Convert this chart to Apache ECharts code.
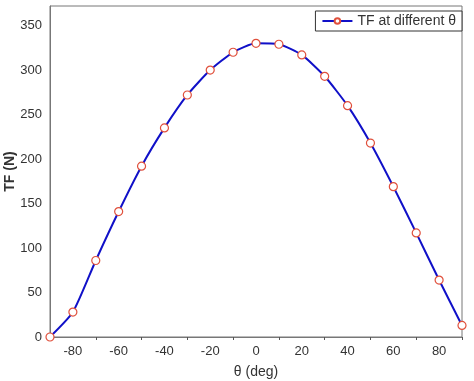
<!DOCTYPE html>
<html>
<head>
<meta charset="utf-8">
<script src="https://cdn.jsdelivr.net/npm/echarts@6/dist/echarts.min.js"></script>
<style>html,body{margin:0;padding:0;background:#fff}#c{width:474px;height:381px}</style>
</head>
<body>
<div id="c"></div>
<script>
var theta = [-90,-80,-70,-60,-50,-40,-30,-20,-10,0,10,20,30,40,50,60,70,80,90];
var tf = [0,28,86,141,192,235,272,300,320,330,329,317,293,260,218,169,117,64,13];
var xLabelValues = [-80,-60,-40,-20,0,20,40,60,80];
var xTickValues = [-90,-70,-50,-30,-10,10,30,50,70,90];
var yMax = 372;

var chart = echarts.init(document.getElementById('c'));
chart.setOption({
  animation: false,
  backgroundColor: '#fff',
  grid: { left: 50, right: 12, top: 6, bottom: 44, containLabel: false, outerBoundsMode: 'none', show: true, borderColor: '#777', borderWidth: 1, backgroundColor: 'transparent' },
  legend: {
    right: 12, top: 11,
    backgroundColor: '#fff', borderColor: '#333', borderWidth: 1,
    padding: [3, 6, 3, 6],
    itemWidth: 30, itemHeight: 7, itemGap: 6,
    textStyle: { fontFamily: 'Liberation Sans, Arial', fontSize: 14, color: '#333' }
  },
  xAxis: {
    type: 'value', min: -90, max: 90,
    name: 'θ (deg)', nameLocation: 'middle', nameGap: 28, nameMoveOverlap: false,
    nameTextStyle: { fontFamily: 'Liberation Sans, Arial', fontSize: 14, color: '#333' },
    axisLine: { onZero: false, lineStyle: { color: '#777', width: 1 } },
    axisTick: { show: true, length: 3, customValues: xTickValues, lineStyle: { color: '#555' } },
    axisLabel: { customValues: xLabelValues, fontFamily: 'Liberation Sans, Arial', fontSize: 13, color: '#333', margin: 8 },
    splitLine: { show: false }
  },
  yAxis: {
    type: 'value', min: 0, max: yMax, interval: 50,
    name: 'TF (N)', nameLocation: 'middle', nameGap: 33, nameMoveOverlap: false,
    nameTextStyle: { fontFamily: 'Liberation Sans, Arial', fontSize: 14, fontWeight: 'bold', color: '#333' },
    axisLine: { show: true, onZero: false, lineStyle: { color: '#777', width: 1 } },
    axisTick: { show: false },
    axisLabel: { fontFamily: 'Liberation Sans, Arial', fontSize: 13, color: '#333', margin: 8, showMaxLabel: false },
    splitLine: { show: false }
  },
  series: [{
    name: 'TF at different θ',
    type: 'line',
    data: theta.map(function (t, i) { return [t, tf[i]]; }),
    smooth: 0.2,
    symbol: 'circle', symbolSize: 8,
    lineStyle: { color: '#1010c8', width: 2 },
    itemStyle: { color: '#fff', borderColor: '#e0503c', borderWidth: 1.2 }
  }]
});
</script>
</body>
</html>
